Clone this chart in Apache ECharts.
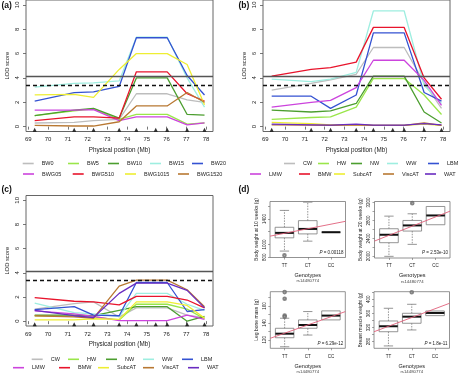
<!DOCTYPE html>
<html><head><meta charset="utf-8">
<script src="https://cdn.jsdelivr.net/npm/echarts@6/dist/echarts.min.js"></script>
<style>html,body{margin:0;padding:0;background:#fff}#c{width:474px;height:378px}</style>
</head><body><div id="c"></div>
<script>
// ---------- DATA ----------
const positions = [69.32, 71.32, 72.30, 73.60, 74.47, 75.45, 76.03, 77.04, 77.92];
const xTicks = [69, 70, 71, 72, 73, 74, 75, 76, 77, 78];
const yTicks = [0, 2, 4, 6, 8, 10];
const thresholds = [4.13, 3.42];
const markerY = -0.25;

// panel (a)
const namesA = ['BW0','BW5','BW10','BW15','BW20','BWG05','BWG510','BWG1015','BWG1520'];
const BW0     = [0.30, 0.35, 0.50, 0.60, 2.70, 2.70, 2.70, 2.20, 2.00];
const BW5     = [0.90, 1.30, 1.45, 0.60, 1.00, 1.00, 1.00, 0.20, 0.30];
const BW10    = [0.90, 1.35, 1.50, 0.70, 4.00, 4.00, 4.00, 1.00, 0.95];
const BW15    = [3.25, 3.55, 3.60, 3.75, 7.35, 7.35, 7.35, 4.00, 1.60];
const BW20    = [2.10, 2.80, 2.85, 3.30, 7.30, 7.30, 7.30, 4.20, 2.60];
const BWG05   = [1.35, 1.35, 1.40, 0.50, 0.80, 0.80, 0.80, 0.15, 0.30];
const BWG510  = [0.50, 0.80, 0.80, 0.70, 4.50, 4.50, 4.50, 2.70, 2.10];
const BWG1015 = [2.60, 2.65, 2.40, 4.70, 6.00, 6.00, 6.00, 5.10, 1.80];
const BWG1520 = [0.10, 0.05, 0.05, 0.40, 1.70, 1.70, 1.70, 2.80, 2.00];

// panel (b)
const namesBC = ['CW','HW','NW','WW','LBM','LMW','BMW','SubcAT','ViscAT','WAT'];
const CW_b     = [3.00, 3.55, 3.85, 4.30, 6.50, 6.50, 6.50, 3.60, 1.50];
const HW_b     = [0.60, 0.75, 0.80, 1.60, 3.95, 3.95, 3.95, 2.60, 1.00];
const NW_b     = [1.35, 1.20, 1.30, 1.90, 4.15, 4.15, 4.15, 1.20, 0.30];
const WW_b     = [3.90, 3.70, 3.90, 4.45, 9.50, 9.50, 9.50, 3.40, 1.90];
const LBM_b    = [2.50, 2.50, 1.50, 2.60, 7.70, 7.70, 7.70, 2.80, 2.10];
const LMW_b    = [1.60, 2.00, 2.15, 3.20, 5.45, 5.45, 5.45, 3.80, 1.75];
const BMW_b    = [4.15, 4.70, 4.85, 5.30, 8.15, 8.15, 8.15, 4.00, 2.25];
const SubcAT_b = [0.35, 0.25, 0.15, 0.15, 0.10, 0.10, 0.10, 0.20, 0.10];
const ViscAT_b = [0.15, 0.12, 0.10, 0.15, 0.10, 0.10, 0.10, 0.30, 0.10];
const WAT_b    = [0.20, 0.15, 0.12, 0.20, 0.12, 0.12, 0.12, 0.25, 0.15];

// panel (c)
const CW_c     = [1.00, 1.45, 1.60, 0.35, 1.10, 1.10, 1.10, 0.50, 0.30];
const HW_c     = [0.45, 0.40, 0.35, 0.10, 1.40, 1.40, 1.40, 1.00, 0.20];
const NW_c     = [0.50, 0.50, 0.45, 0.90, 1.20, 1.20, 1.20, 0.00, 0.40];
const WW_c     = [1.50, 0.70, 0.60, 0.40, 2.30, 2.30, 2.30, 1.40, 0.90];
const LBM_c    = [0.95, 1.20, 0.50, 0.45, 3.20, 3.20, 3.20, 0.80, 0.95];
const LMW_c    = [0.85, 0.60, 0.40, 0.05, 0.05, 0.05, 0.05, 0.50, 0.15];
const BMW_c    = [1.95, 1.65, 1.60, 1.35, 2.05, 2.05, 2.05, 1.75, 1.10];
const SubcAT_c = [0.10, 0.10, 0.20, 0.15, 1.60, 1.60, 1.60, 1.30, 0.25];
const ViscAT_c = [0.45, 0.35, 0.25, 2.90, 3.40, 3.40, 3.40, 2.60, 1.20];
const WAT_c    = [0.90, 0.45, 0.30, 2.30, 3.15, 3.15, 3.15, 2.55, 1.10];

// panel (d): [lower whisker, Q1, median, Q3, upper whisker] for TT, CT, CC
const genotypes = ['TT', 'CT', 'CC'];
const bw10Stats = [[896, 1104, 1182, 1270, 1535], [1052, 1166, 1244, 1374, 1665], [1192, 1192, 1192, 1192, 1192]];
const bw10Out   = [[1, 829]];
const bw10Fit   = [1175, 1319];          // fitted value at TT and CC
const bw10Ticks = [800, 1000, 1200, 1400, 1600];
const bw10Labels = [800, 1000, 1400];

const bw20Stats = [[2000, 2304, 2481, 2615, 2896], [2267, 2563, 2689, 2800, 2948], [2704, 2704, 2911, 3111, 3111]];
const bw20Out   = [[2, 3185]];
const bw20Fit   = [2468, 2879];
const bw20Ticks = [2000, 2200, 2400, 2600, 2800, 3000, 3200];
const bw20Labels = [2000, 2400, 2800, 3200];

const legStats = [[111.8, 122.5, 127.3, 133.7, 145.6], [125.7, 133.7, 137.6, 143.6, 153.5], [143.6, 143.6, 148.7, 154.3, 154.3]];
const legOut   = [[1, 176.5], [1, 168.6], [1, 148.7], [1, 147.3]];
const legFit   = [127.9, 147.4];
const legTicks = [120, 130, 140, 150, 160, 170];
const legLabels = [120, 140, 160];

const bmwStats = [[267.7, 308, 323.5, 338.5, 374.5], [313, 332, 350.7, 360.3, 385.8], [353.6, 353.6, 361.2, 366.9, 366.9]];
const bmwOut   = [[2, 419.8]];
const bmwFit   = [323.4, 373.2];
const bmwTicks = [280, 300, 320, 340, 360, 380, 400, 420];
const bmwLabels = [280, 320, 360, 400];

// ---------- STYLE ----------
const colorOf = {
  BW0:'#bdbdbd', CW:'#bdbdbd', BW5:'#9ae64a', HW:'#9ae64a', BW10:'#4c9e2f', NW:'#4c9e2f',
  BW15:'#9eeee0', WW:'#9eeee0', BW20:'#3452d2', LBM:'#3452d2', BWG05:'#cc44dd', LMW:'#cc44dd',
  BWG510:'#e8142c', BMW:'#e8142c', BWG1015:'#eeee33', SubcAT:'#eeee33', BWG1520:'#b87832',
  ViscAT:'#b87832', WAT:'#6a2cc0'
};
const FONT = 'Liberation Sans, Arial, Helvetica, sans-serif';

const lodPanels = [
  { names: namesA,
    values: {BW0, BW5, BW10, BW15, BW20, BWG05, BWG510, BWG1015, BWG1520},
    box: {left: 26, top: 0, width: 187, height: 131.5},
    legends: [{top: 160.5, items: [['BW0',22.7],['BW5',68],['BW10',108],['BW15',150],['BW20',192]]},
              {top: 171, items: [['BWG05',23],['BWG510',72.7],['BWG1015',125],['BWG1520',178]]}] },
  { names: namesBC,
    values: {CW:CW_b, HW:HW_b, NW:NW_b, WW:WW_b, LBM:LBM_b, LMW:LMW_b, BMW:BMW_b, SubcAT:SubcAT_b, ViscAT:ViscAT_b, WAT:WAT_b},
    box: {left: 263, top: 0, width: 187, height: 131.5},
    legends: [{top: 160.5, items: [['CW',284],['HW',318],['NW',351],['WW',387],['LBM',428]]},
              {top: 171, items: [['LMW',250],['BMW',299],['SubcAT',334],['ViscAT',383],['WAT',425]]}] },
  { names: namesBC,
    values: {CW:CW_c, HW:HW_c, NW:NW_c, WW:WW_c, LBM:LBM_c, LMW:LMW_c, BMW:BMW_c, SubcAT:SubcAT_c, ViscAT:ViscAT_c, WAT:WAT_c},
    box: {left: 26, top: 195.5, width: 187, height: 130.5},
    legends: [{top: 356.3, items: [['CW',31.7],['HW',68],['NW',106],['WW',143],['LBM',182]]},
              {top: 364.7, items: [['LMW',13],['BMW',59],['SubcAT',98],['ViscAT',143],['WAT',188]]}] }
];

const boxPanels = [
  { stats: bw10Stats, out: bw10Out, fit: bw10Fit, ticks: bw10Ticks, labels: bw10Labels, yMin: 795, yMax: 1675,
    yName: 'Body weight at 10 weeks (g)', p: '0.00118', box: {left: 270, top: 201.5, width: 75.5, height: 56} },
  { stats: bw20Stats, out: bw20Out, fit: bw20Fit, ticks: bw20Ticks, labels: bw20Labels, yMin: 1963, yMax: 3222,
    yName: 'Body weight at 20 weeks (g)', p: '2.53e-10', box: {left: 374.5, top: 201.5, width: 75.5, height: 56.5} },
  { stats: legStats, out: legOut, fit: legFit, ticks: legTicks, labels: legLabels, yMin: 110, yMax: 177,
    yName: 'Leg bone mass (g)', p: '6.29e-12', box: {left: 270.3, top: 291.7, width: 75, height: 56.6} },
  { stats: bmwStats, out: bmwOut, fit: bmwFit, ticks: bmwTicks, labels: bmwLabels, yMin: 261, yMax: 421.5,
    yName: 'Breast muscle weight (g)', p: '1.8e-11', box: {left: 374, top: 291.7, width: 75.5, height: 56.6} }
];

// ---------- BUILD ----------
const grid = [], xAxis = [], yAxis = [], series = [], legend = [], graphic = [];

lodPanels.forEach((p, gi) => {
  grid.push(Object.assign({show: true, borderColor: '#666', borderWidth: 1, containLabel: false, outerBoundsMode: 'none'}, p.box));
  xAxis.push({
    gridIndex: gi, type: 'value', min: 68.88, max: 78.35,
    name: 'Physical position (Mb)', nameLocation: 'middle', nameGap: 15.3,
    nameTextStyle: {fontSize: 6.3, color: '#222', fontFamily: FONT},
    axisLine: {show: false}, splitLine: {show: false},
    axisTick: {show: true, customValues: xTicks, length: 3, lineStyle: {color: '#555', width: 0.8}},
    axisLabel: {customValues: xTicks, fontSize: 6, color: '#222', margin: 5, fontFamily: FONT}
  });
  yAxis.push({
    gridIndex: gi, type: 'value', min: -0.4, max: 10.4,
    name: 'LOD score', nameLocation: 'middle', nameGap: 16,
    nameTextStyle: {fontSize: 5.8, color: '#222', fontFamily: FONT},
    axisLine: {show: false}, splitLine: {show: false},
    axisTick: {show: true, customValues: yTicks, length: 3, lineStyle: {color: '#555', width: 0.8}},
    axisLabel: {customValues: yTicks, rotate: 90, fontSize: 6, color: '#222', margin: 6, fontFamily: FONT}
  });
  p.names.forEach((n, k) => {
    const s = {
      type: 'line', name: n, xAxisIndex: gi, yAxisIndex: gi,
      data: positions.map((x, i) => [x, p.values[n][i]]),
      symbol: 'none', lineStyle: {color: colorOf[n], width: 1.3}, itemStyle: {color: colorOf[n]},
      z: 2
    };
    if (k === 0) {
      s.markLine = {
        silent: true, symbol: 'none', label: {show: false}, animation: false,
        data: [
          {yAxis: thresholds[0], lineStyle: {type: 'solid', color: '#555', width: 1.3}},
          {yAxis: thresholds[1], lineStyle: {type: [4, 3], color: '#111', width: 1.3}}
        ]
      };
    }
    series.push(s);
  });
  series.push({
    type: 'scatter', xAxisIndex: gi, yAxisIndex: gi, silent: true,
    data: positions.map(x => [x, markerY]),
    symbol: 'triangle', symbolSize: 4, itemStyle: {color: '#000'}, z: 5
  });
  p.legends.forEach(row => {
    row.items.forEach(([name, left]) => {
      legend.push({
        data: [name], left: left, top: row.top, padding: 0, itemWidth: 11, itemHeight: 1.6,
        icon: 'rect', selectedMode: false,
        textStyle: {fontSize: 5.5, color: '#222', lineHeight: 6, padding: [0, 0, 0, 3], fontFamily: FONT}
      });
    });
  });
});

function renderBox(params, api) {
  const x = api.value(0);
  const pts = [1, 2, 3, 4, 5].map(i => api.coord([x, api.value(i)]));
  const w = api.size([0.8, 0])[0];
  const cx = pts[0][0], half = w / 2, cap = w / 4;
  const stroke = '#7a7a7a';
  const ch = [];
  if (pts[4][1] < pts[3][1] - 0.2) {
    ch.push({type: 'line', shape: {x1: cx, y1: pts[3][1], x2: cx, y2: pts[4][1]}, style: {stroke, lineWidth: 0.8, lineDash: [1.5, 1.2]}});
    ch.push({type: 'line', shape: {x1: cx - cap, y1: pts[4][1], x2: cx + cap, y2: pts[4][1]}, style: {stroke, lineWidth: 0.8}});
  }
  if (pts[0][1] > pts[1][1] + 0.2) {
    ch.push({type: 'line', shape: {x1: cx, y1: pts[1][1], x2: cx, y2: pts[0][1]}, style: {stroke, lineWidth: 0.8, lineDash: [1.5, 1.2]}});
    ch.push({type: 'line', shape: {x1: cx - cap, y1: pts[0][1], x2: cx + cap, y2: pts[0][1]}, style: {stroke, lineWidth: 0.8}});
  }
  ch.push({type: 'rect', shape: {x: cx - half, y: pts[3][1], width: w, height: pts[1][1] - pts[3][1]}, style: {stroke, fill: 'none', lineWidth: 0.8}});
  ch.push({type: 'line', shape: {x1: cx - half, y1: pts[2][1], x2: cx + half, y2: pts[2][1]}, style: {stroke: '#111', lineWidth: 2}});
  return {type: 'group', children: ch};
}

boxPanels.forEach((p, k) => {
  const gi = lodPanels.length + k;
  const xMin = 0.38, xMax = 3.62;
  grid.push(Object.assign({show: true, borderColor: '#777', borderWidth: 0.8, containLabel: false, outerBoundsMode: 'none'}, p.box));
  xAxis.push({
    gridIndex: gi, type: 'value', min: xMin, max: xMax,
    name: '{a|Genotypes}\n{b|rs14480774}', nameLocation: 'middle', nameGap: 14.5,
    nameTextStyle: {fontFamily: FONT, align: 'center', rich: {
      a: {fontSize: 5.5, lineHeight: 6.5, color: '#222', fontFamily: FONT, align: 'center'},
      b: {fontSize: 4.3, lineHeight: 5, color: '#444', fontFamily: FONT, align: 'center'}}},
    axisLine: {show: false}, splitLine: {show: false},
    axisTick: {show: true, customValues: [1, 2, 3], length: 2, lineStyle: {color: '#666', width: 0.6}},
    axisLabel: {customValues: [1, 2, 3], formatter: v => genotypes[Math.round(v) - 1], fontSize: 4.5, color: '#222', margin: 5.5, fontFamily: FONT}
  });
  yAxis.push({
    gridIndex: gi, type: 'value', min: p.yMin, max: p.yMax,
    name: p.yName, nameLocation: 'middle', nameGap: 11,
    nameTextStyle: {fontSize: 5, color: '#222', fontFamily: FONT},
    axisLine: {show: false}, splitLine: {show: false},
    axisTick: {show: true, customValues: p.ticks, length: 2, lineStyle: {color: '#666', width: 0.6}},
    axisLabel: {customValues: p.labels, formatter: v => String(Math.round(v)), rotate: 90, fontSize: 4.5, color: '#222', margin: 3, fontFamily: FONT}
  });
  series.push({
    type: 'custom', xAxisIndex: gi, yAxisIndex: gi, renderItem: renderBox, silent: true,
    encode: {x: 0, y: [1, 2, 3, 4, 5]},
    data: p.stats.map((s, i) => [i + 1].concat(s)), z: 2
  });
  series.push({
    type: 'scatter', xAxisIndex: gi, yAxisIndex: gi, silent: true,
    data: p.out, symbol: 'emptyCircle', symbolSize: 2.6,
    itemStyle: {color: '#666', borderWidth: 0.6}, z: 3
  });
  const slope = (p.fit[1] - p.fit[0]) / 2;
  series.push({
    type: 'line', xAxisIndex: gi, yAxisIndex: gi, silent: true, symbol: 'none',
    data: [[xMin, p.fit[0] + slope * (xMin - 1)], [xMax, p.fit[0] + slope * (xMax - 1)]],
    lineStyle: {color: '#e0607a', width: 0.9}, z: 4
  });
  graphic.push({
    type: 'text', x: p.box.left + p.box.width - 2, y: p.box.top + p.box.height - 5, silent: true,
    style: {text: '{i|P} = ' + p.p, align: 'right', verticalAlign: 'middle', fill: '#222',
      font: '4.5px ' + FONT,
      rich: {i: {fontStyle: 'italic', fontSize: 4.5, fontFamily: FONT, fill: '#222'}}}
  });
});

[['(a)', 1.5, 5.5], ['(b)', 238.5, 5.5], ['(c)', 1.5, 189.5], ['(d)', 238.5, 189.5]].forEach(([t, x, y]) => {
  graphic.push({type: 'text', x, y, silent: true,
    style: {text: t, font: 'bold 8.5px ' + FONT, fill: '#111', verticalAlign: 'middle', align: 'left'}});
});

const chart = echarts.init(document.getElementById('c'), null, {renderer: 'canvas'});
chart.setOption({
  animation: false,
  backgroundColor: '#fff',
  textStyle: {fontFamily: FONT},
  grid, xAxis, yAxis, series, legend, graphic
});
</script>
</body></html>
